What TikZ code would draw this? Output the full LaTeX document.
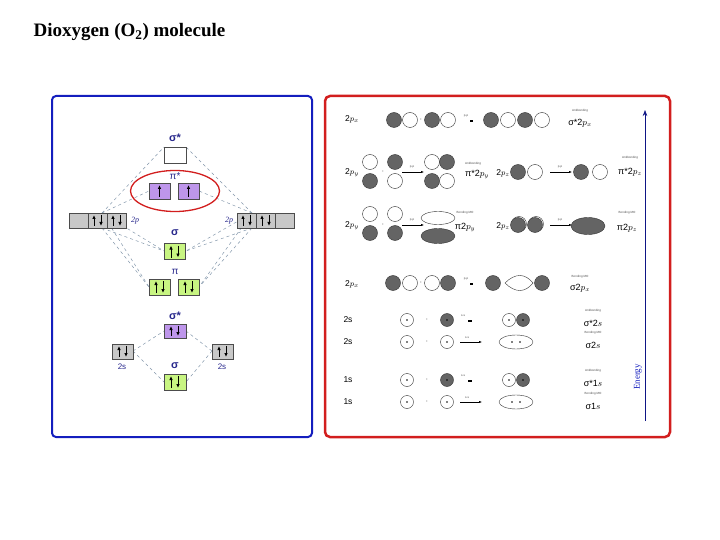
\documentclass[tikz,border=0pt]{standalone}
\usepackage{fontspec}
\setmainfont{Liberation Serif}
\newfontfamily\sansf{Liberation Sans}
\usetikzlibrary{arrows.meta}
\definecolor{navyb}{RGB}{20,30,190}
\definecolor{redb}{RGB}{210,30,30}
\definecolor{lab}{RGB}{40,40,140}
\definecolor{pur}{RGB}{190,150,235}
\definecolor{grn}{RGB}{200,245,130}
\definecolor{gbox}{RGB}{200,200,200}
\definecolor{dk}{RGB}{100,100,100}
\definecolor{dash}{RGB}{130,150,170}
\tikzset{ea/.style={-{Latex[length=4pt,width=3.5pt]},line width=0.8pt}}
\newcommand\ebox[4]{\draw[fill=#3,draw=black!70] (#1,#2) rectangle ++(21,-16); \ebx{#1}{#2}{#4}}
\newcommand\ebx[3]{\ifcase#3\or\draw[ea] (#1+10.5,#2-2) -- (#1+10.5,#2-14);\or
 \draw[ea] (#1+7,#2-2) -- (#1+7,#2-14);\or
 \draw[ea] (#1+7,#2-2) -- (#1+7,#2-14);\draw[ea] (#1+14,#2-14) -- (#1+14,#2-2);\fi}
\newcommand\gc[2]{\draw[fill=dk,draw=black!80] (#1,#2) circle (7.5);}
\newcommand\wc[2]{\draw[draw=black!80,fill=white] (#1,#2) circle (7.5);}
\newcommand\sw[2]{\draw[draw=black!80,fill=white] (#1,#2) circle (6.5);\fill (#1,#2) circle (0.8);}
\newcommand\sg[2]{\draw[draw=black!80,fill=dk] (#1,#2) circle (6.5);\fill (#1,#2) circle (0.8);}
\newcommand\parw[2]{\node[tiny] at (#1+10,#2-5) {p-p};\draw[-{Latex[length=3pt]}] (#1,#2) -- (#1+22,#2);}
\begin{document}
\begin{tikzpicture}[x=1pt,y=-1pt,
 tiny/.style={font=\sansf\fontsize{3}{3}\selectfont,text=black!70},
 rl/.style={font=\sansf\fontsize{8.5}{9}\selectfont},
 ml/.style={font=\sansf\fontsize{9}{9}\selectfont},
 gl/.style={font=\sansf\bfseries\fontsize{11}{11}\selectfont,text=lab},
 dl/.style={draw=dash,dashed,line width=0.5pt}]
\useasboundingbox (0,0) rectangle (720,540);
\node[anchor=west,font=\bfseries\fontsize{19}{22}\selectfont] (title) at (30,32) {Dioxygen (O\textsubscript{2}) molecule};
% panels
\draw[navyb,line width=2pt,rounded corners=4pt] (52,96) rectangle (312,437);
\draw[redb,line width=2.5pt,rounded corners=5pt] (325,96) rectangle (670,437);
% dashed correlation lines
\foreach \p in {(164,147),(149,191),(164,251),(149,287)} \draw[dl] (102,213) -- \p;
\foreach \p in {(186,147),(199,191),(186,251),(199,287)} \draw[dl] (252,213) -- \p;
\draw[dl] (102,228) -- (164,251); \draw[dl] (102,228) -- (149,287);
\draw[dl] (252,228) -- (186,251); \draw[dl] (252,228) -- (199,287);
\draw[dl] (133,351) -- (164,331); \draw[dl] (133,351) -- (164,382);
\draw[dl] (212,351) -- (186,331); \draw[dl] (212,351) -- (186,382);
% boxes
\draw[fill=white,draw=black!70] (164,147) rectangle (186,163);
\node[gl] (ss) at (175,138) {σ*};
\node[gl,font=\sansf\fontsize{10}{10}\selectfont] (ps) at (175,176) {π*};
\ebox{149}{199}{pur}{1}\ebox{178}{199}{pur}{1}
\draw[redb,line width=1.3pt] (175,191) ellipse (44.5 and 20.5);
\foreach \x in {69,88,107} \draw[fill=gbox,draw=black!70] (\x,213) rectangle ++(19,15);
\foreach \x in {237,256,275} \draw[fill=gbox,draw=black!70] (\x,213) rectangle ++(19,15);
\foreach \x in {88,107,237,256}{\draw[ea] (\x+6,226) -- (\x+6,215);\draw[ea] (\x+13,215) -- (\x+13,226);}
\node[font=\itshape\fontsize{8}{8}\selectfont,text=lab] at (135,221) {2p};
\node[font=\itshape\fontsize{8}{8}\selectfont,text=lab] at (229,221) {2p};
\node[gl] at (175,233) {σ};
\ebox{164}{259.5}{grn}{3}
\node[gl,font=\sansf\fontsize{10}{10}\selectfont] at (175,272) {π};
\ebox{149}{295}{grn}{3}\ebox{178}{295}{grn}{3}
\node[gl] at (175,316) {σ*};
\draw[fill=pur,draw=black!70] (164,324) rectangle (186,338);
\draw[ea] (171,336) -- (171,326);\draw[ea] (178,326) -- (178,336);
\node[gl] at (175,366) {σ};
\draw[fill=grn,draw=black!70] (164,374) rectangle (186,390);
\draw[ea] (171,388) -- (171,376);\draw[ea] (178,376) -- (178,388);
\draw[fill=gbox,draw=black!70] (112,344) rectangle (133,359);
\draw[fill=gbox,draw=black!70] (212,344) rectangle (233,359);
\foreach \x in {112,212}{\draw[ea] (\x+7,357) -- (\x+7,346);\draw[ea] (\x+14,346) -- (\x+14,357);}
\node[font=\sansf\fontsize{8}{8}\selectfont,text=lab] at (122,367) {2s};
\node[font=\sansf\fontsize{8}{8}\selectfont,text=lab] at (222,367) {2s};
% ---------- right panel
\node[rl] at (352,119) {2$p_x$};
\gc{394}{120}\wc{410}{120}\node[tiny] at (421,120){+};\gc{432}{120}\wc{448}{120}
\node[tiny] at (466,116){p-p};\fill (470,120) rectangle ++(3,2);
\gc{491}{120}\wc{508}{120}\gc{525}{120}\wc{542}{120}
\node[tiny] at (580,111){Antibonding};\node[ml] at (580,123){σ*2$p_x$};
% row 2
\node[rl] at (352,173) {2$p_y$};
\wc{370}{162}\gc{370}{181}\node[tiny] at (383,172){+};\gc{395}{162}\wc{395}{181}
\parw{402}{172}
\wc{432}{162}\gc{432}{181}\gc{447}{162}\wc{447}{181}
\node[tiny] at (473,164){Antibonding};\node[ml] at (477,174){π*2$p_y$};
\node[rl] at (503,173) {2$p_z$};
\gc{518}{172}\wc{535}{172}\parw{550}{172}\gc{581}{172}\wc{600}{172}
\node[tiny] at (630,158){Antibonding};\node[ml] at (630,172){π*2$p_z$};
% row 3
\node[rl] at (352,226) {2$p_y$};
\wc{370}{214}\gc{370}{233}\node[tiny] at (383,225){+};\wc{395}{214}\gc{395}{233}
\parw{402}{225}
\draw[fill=white,draw=black!80] (438,218) ellipse (17 and 6.5);
\draw[fill=dk,draw=black!80] (438,236) ellipse (17 and 7.5);
\node[tiny] at (465,213){Bonding MO};\node[ml] at (465,227){π2$p_y$};
\node[rl] at (503,226) {2$p_z$};
\wc{519}{224}\wc{536}{224}\gc{518}{225}\gc{535}{225}\parw{550}{225}
\draw[fill=dk,draw=black!80] (588,226) ellipse (17 and 8.5);
\node[tiny] at (627,213){Bonding MO};\node[ml] at (627,228){π2$p_z$};
% row 4
\node[rl] at (352,284) {2$p_x$};
\gc{393}{283}\wc{410}{283}\node[tiny] at (421,283){+};\wc{432}{283}\gc{448}{283}
\node[tiny] at (466,279){p-p};\fill (470,283) rectangle ++(3,2);
\draw[draw=black!80,fill=white] (505,283) .. controls (515,273) and (525,273) .. (533,283) .. controls (525,293) and (515,293) .. (505,283);
\gc{493}{283}\gc{542}{283}
\node[tiny] at (580,277){Bonding MO};\node[ml] at (580,288){σ2$p_x$};
% s rows
\foreach \y/\l in {320/2s,380/1s}{
 \node[rl] at (348,\y) {\l};\sw{407}{\y}\node[tiny] at (427,\y){+};\sg{447}{\y}
 \node[tiny] at (463,\y-4){s-s};\fill (468,\y) rectangle ++(4,2);
 \sw{509}{\y}\sg{523}{\y}}
\foreach \y/\l in {342/2s,402/1s}{
 \node[rl] at (348,\y) {\l};\sw{407}{\y}\node[tiny] at (427,\y){+};\sw{447}{\y}
 \node[tiny] at (467,\y-4){s-s};\draw[-{Latex[length=3pt]}] (460,\y) -- (482,\y);
 \draw[draw=black!80] (516,\y) ellipse (17 and 7);\fill (512,\y) circle (0.8);\fill (520,\y) circle (0.8);}
\node[tiny] at (593,311){Antibonding};\node[ml] at (593,323){σ*2$s$};
\node[tiny] at (593,333){Bonding MO};\node[ml] at (593,345){σ2$s$};
\node[tiny] at (593,371){Antibonding};\node[ml] at (593,383){σ*1$s$};
\node[tiny] at (593,394){Bonding MO};\node[ml] at (593,406){σ1$s$};
% energy
\coordinate (e0) at (645,421); \coordinate (e1) at (645,110);
\draw[navyb!70!black,-{Stealth[length=6pt]},line width=0.6pt] (e0) -- (e1);
\node[rotate=90,font=\fontsize{9}{9}\selectfont,text=navyb] (en) at (638,377) {Energy};
\end{tikzpicture}
\end{document}
